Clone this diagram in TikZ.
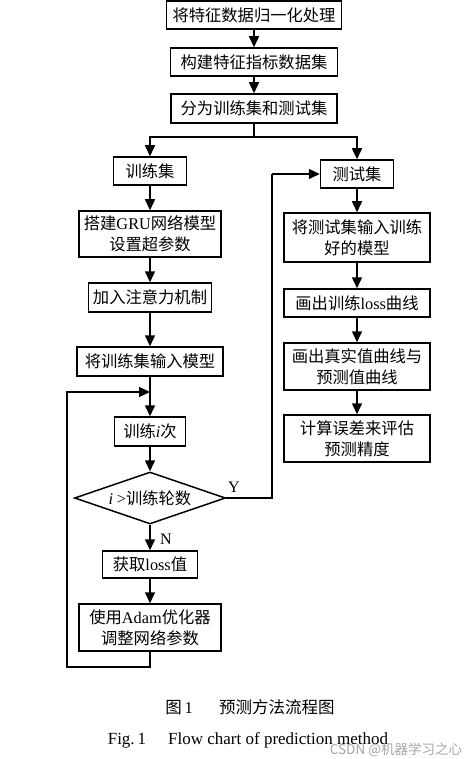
\documentclass[tikz,border=0pt]{standalone}
\usepackage{fontspec}
\setmainfont{Liberation Serif}
\newfontfamily\cjk{Noto Sans CJK SC}
\usetikzlibrary{arrows.meta,shapes.geometric}
\tikzset{
  box/.style={draw, line width=1.5pt, inner sep=0pt, align=center, font=\cjk\fontsize{16.3}{21}\selectfont},
  ln/.style={line width=1.5pt},
  arr/.style={line width=1.5pt, -{Triangle[width=10pt,length=11pt]}},
  lab/.style={font=\rmfamily\fontsize{16}{18}\selectfont, inner sep=0pt}
}
\newcommand{\lat}[1]{{\rmfamily #1}}
\begin{document}
\begin{tikzpicture}[x=1pt,y=-1pt]
\useasboundingbox[fill=white] (0,0) rectangle (474,759);
% top column
\node[box, minimum width=175pt, minimum height=28pt] (n1) at (254,15) {将特征数据归一化处理};
\node[box, minimum width=167pt, minimum height=28pt] (n2) at (254,62) {构建特征指标数据集};
\node[box, minimum width=166pt, minimum height=29pt] (n3) at (254,108.5) {分为训练集和测试集};
% left column
\node[box, minimum width=73pt, minimum height=28pt] (train) at (150,171) {训练集};
\node[box, minimum width=142pt, minimum height=46pt] (gru) at (150,234) {搭建\lat{GRU}网络模型\\设置超参数};
\node[box, minimum width=123pt, minimum height=29pt] (attn) at (150,297.5) {加入注意力机制};
\node[box, minimum width=146pt, minimum height=29pt] (input) at (150,361.5) {将训练集输入模型};
\node[box, minimum width=71pt, minimum height=29pt] (traini) at (150,431.5) {训练\lat{\itshape i}次};
\node[box, shape=diamond, minimum width=151pt, minimum height=52pt, aspect=2.9] (dia) at (150,498) {\lat{\itshape i} \lat{>}训练轮数};
\node[box, minimum width=95pt, minimum height=27pt] (loss) at (150,564.5) {获取\lat{loss}值};
\node[box, minimum width=142pt, minimum height=47pt] (adam) at (150,627.5) {使用\lat{Adam}优化器\\调整网络参数};
% right column
\node[box, minimum width=73pt, minimum height=28pt] (test) at (357,174) {测试集};
\node[box, minimum width=146pt, minimum height=49pt] (t2) at (357,237.5) {将测试集输入训练\\好的模型};
\node[box, minimum width=146pt, minimum height=28pt] (t3) at (357,303) {画出训练\lat{loss}曲线};
\node[box, minimum width=146pt, minimum height=47pt] (t4) at (357,366.5) {画出真实值曲线与\\预测值曲线};
\node[box, minimum width=146pt, minimum height=47pt] (t5) at (357,438.5) {计算误差来评估\\预测精度};
% coordinates
\coordinate (split) at (254,137);
\coordinate (join) at (150,392);
\coordinate (lb) at (67,667);
\coordinate (yc) at (272,174);
% connectors
\draw[arr] (n1) -- (n2);
\draw[arr] (n2) -- (n3);
\draw[ln] (n3) -- (split);
\draw[arr] (split) -| (train);
\draw[arr] (split) -| (test);
\draw[arr] (train) -- (gru);
\draw[arr] (gru) -- (attn);
\draw[arr] (attn) -- (input);
\draw[arr] (input) -- (traini);
\draw[arr] (traini) -- (dia);
\draw[arr] (dia) -- (loss);
\draw[arr] (loss) -- (adam);
\draw[arr] (adam.south) |- (lb) |- (join);
\draw[ln] (dia.east) -| (yc);
\draw[arr] (yc) -- (test);
\draw[arr] (test) -- (t2);
\draw[arr] (t2) -- (t3);
\draw[arr] (t3) -- (t4);
\draw[arr] (t4) -- (t5);
% labels
\node[lab] (ylab) at (234,487) {Y};
\node[lab] (nlab) at (166,539) {N};
% caption
\node[inner sep=0pt, font=\cjk\fontsize{16.5}{18}\selectfont] (cap1) at (250,707) {图\,\lat{1}\hspace{1.6em}预测方法流程图};
\node[inner sep=0pt, font=\rmfamily\fontsize{17}{19}\selectfont] (cap2) at (248,740) {Fig.\,1\hspace{1.3em}Flow chart of prediction method};
\node[inner sep=0pt, text=black!35, font=\cjk\fontsize{13.5}{15}\selectfont] (wm) at (396,750) {CSDN @机器学习之心};
\end{tikzpicture}
\end{document}
